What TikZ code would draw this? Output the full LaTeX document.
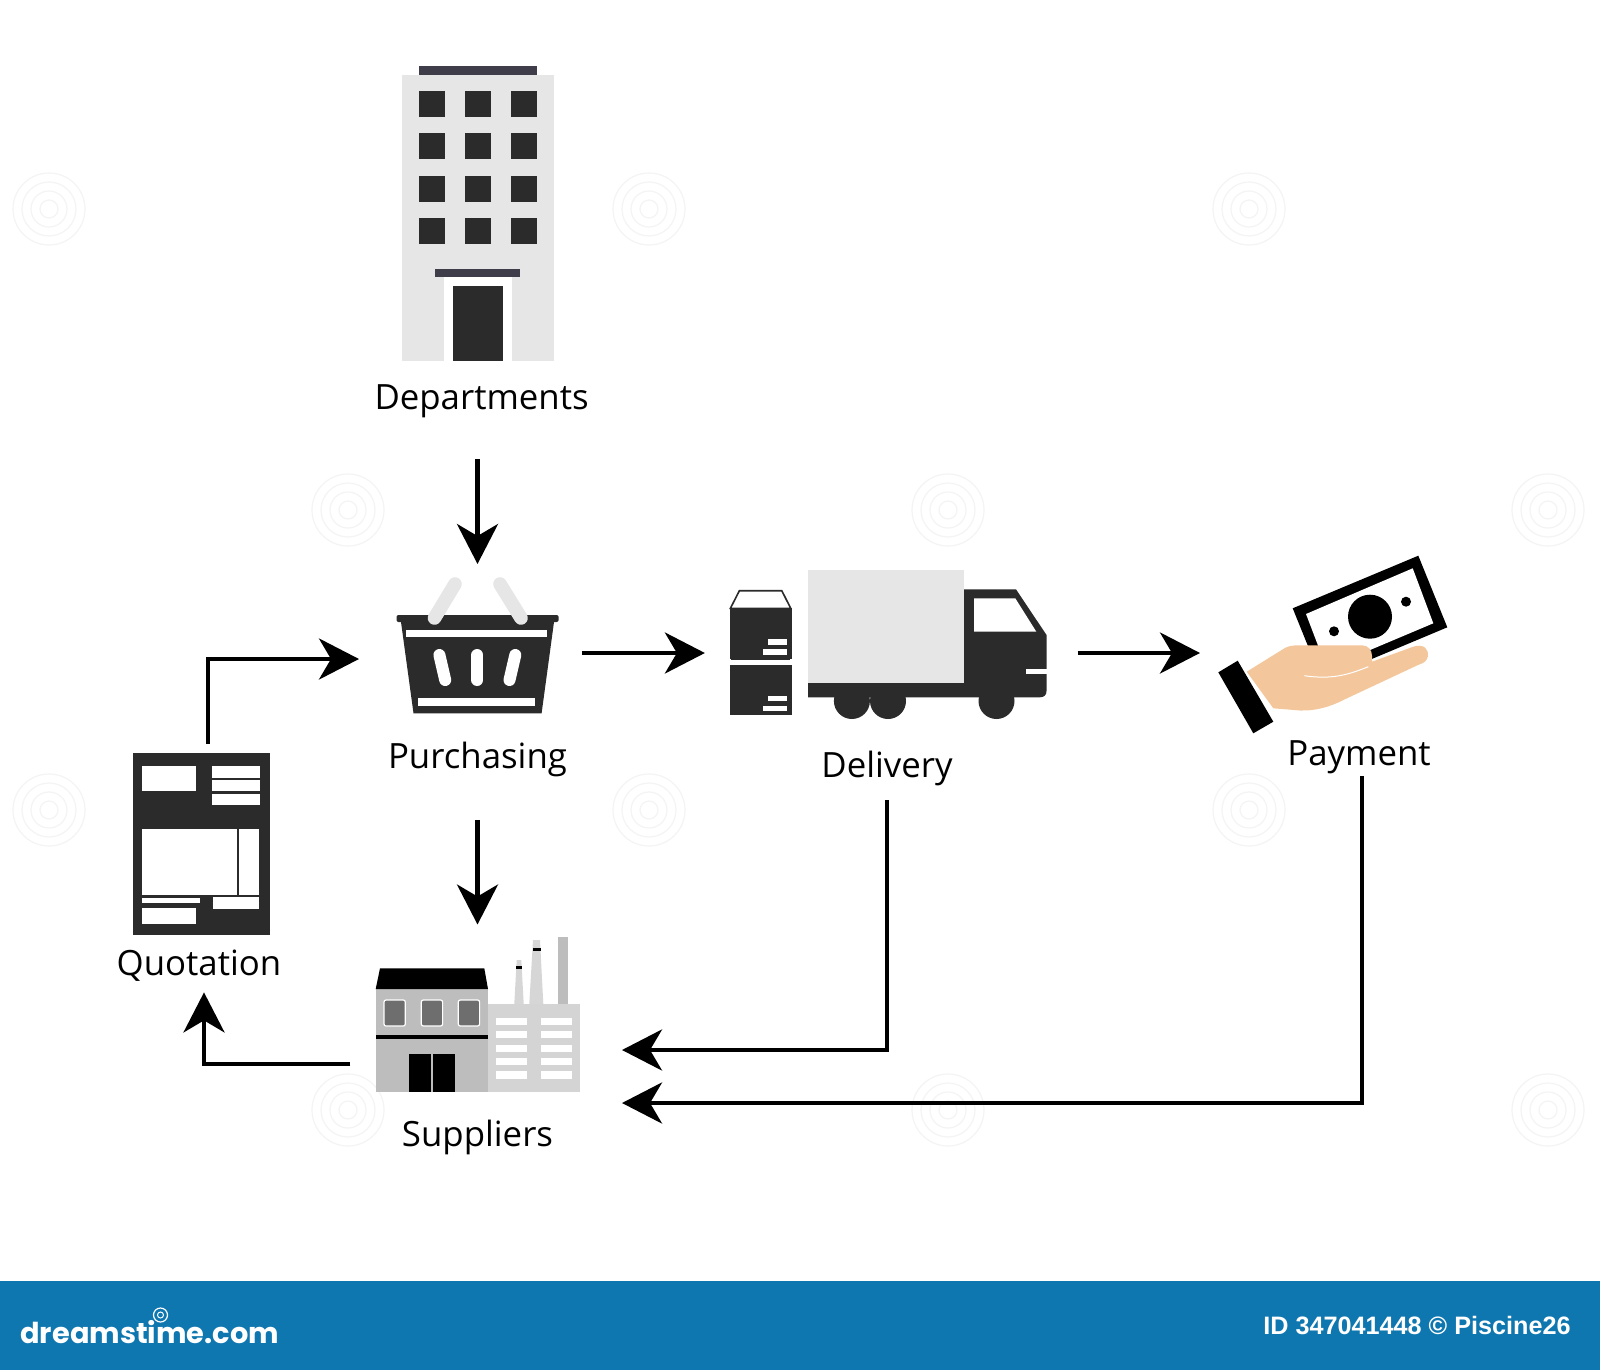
\documentclass[tikz,border=0pt]{standalone}
\usepackage{fontspec}
\setmainfont{Open Sans}
\newfontfamily\footfont{Liberation Sans}
\newfontfamily\logofont{Poppins}
\usetikzlibrary{arrows.meta}
\definecolor{inkdark}{HTML}{2B2B2B}
\definecolor{paleg}{HTML}{E6E6E6}
\definecolor{slatebar}{HTML}{3F3D4A}
\definecolor{skin}{HTML}{F3C79B}
\definecolor{bandblue}{HTML}{0F77AF}
\definecolor{markg}{HTML}{F4F4F4}
\tikzset{
	flow/.style={line width=2.1pt, -{Stealth[length=20pt,width=20.5pt,inset=6pt]}},
	caption/.style={anchor=base, inner sep=0pt, text height=12pt, text depth=4pt, font=\fontsize{17.4}{20}\selectfont},
	iconbox/.style={inner sep=0pt, outer sep=0pt},
	dark/.style={fill=inkdark},
	hole/.style={fill=white},
}
\begin{document}
\begin{tikzpicture}[x=0.5pt, y=-0.5pt]
		\useasboundingbox (0,0) rectangle (1600,1370);
		\fill[white] (0,0) rectangle (1600,1370);

		% Watermark
		\foreach \wx/\wy in {49/209, 649/209, 1249/209, 348/510, 948/510, 1548/510, 49/810, 649/810, 1249/810, 348/1110, 948/1110, 1548/1110} {
			\foreach \wr in {9,18,27,36} {
				\draw[markg, line width=.6pt] (\wx,\wy) circle[radius=\wr];
			}
		}

		% Nodes
		\node[iconbox, minimum width=76pt, minimum height=147.5pt] (building) at (478,213.5) {};
		\node[iconbox, minimum width=81pt, minimum height=68pt] (basket) at (477.5,645) {};
		\node[iconbox, minimum width=158.5pt, minimum height=74.5pt] (truck) at (888,644.5) {};
		\node[iconbox, minimum width=114.5pt, minimum height=89pt] (hand) at (1332.5,644) {};
		\node[iconbox, minimum width=69pt, minimum height=91pt] (form) at (201.5,844) {};
		\node[iconbox, minimum width=102pt, minimum height=77.5pt] (factory) at (478,1014.5) {};

		\node[caption] (departments) at (481.6,409) {Departments};
		\node[caption] (purchasing) at (477.5,768.4) {Purchasing};
		\node[caption] (delivery) at (887,777.6) {Delivery};
		\node[caption] (payment) at (1359,765) {Payment};
		\node[caption] (quotation) at (199,975.5) {Quotation};
		\node[caption] (suppliers) at (477.5,1146) {Suppliers};

		% Building
		\fill[paleg] (402,75) rectangle (554,361);
		\fill[slatebar] (419,66) rectangle (537,75);
		\foreach \wy in {91,133,176,218} {
			\foreach \wx in {419,465,511} {
				\fill[dark] (\wx,\wy) rectangle ++(25.5,26);
			}
		}
		\fill[slatebar] (435,269) rectangle (520,277);
		\fill[hole] (444,277) rectangle (512,361);
		\fill[dark] (453,286) rectangle (503,361);

		% Basket
		\fill[dark, rounded corners=1pt] (396.5,615) rectangle (558.6,622);
		\fill[dark] (401,622) -- (554,622) -- (541.6,713.3) -- (413.5,713.3) -- cycle;
		\draw[paleg, line width=6.8pt, line cap=round] (455,584) -- (434.5,618);
		\draw[paleg, line width=6.8pt, line cap=round] (500,584) -- (521,618);
		\fill[hole] (406,629.7) rectangle (546.5,637.3);
		\fill[hole] (417.5,697.7) rectangle (535,705.7);
		\draw[white, line width=6pt, line cap=round] (439.4,655) -- (445.2,680);
		\draw[white, line width=6pt, line cap=round] (477.3,655) -- (477.3,680);
		\draw[white, line width=6pt, line cap=round] (515.3,655) -- (509.5,680);

		% Truck and boxes
		\draw[inkdark, fill=white, line width=.8pt] (739.4,590.7) -- (781.8,590.7) -- (790.7,608.3) -- (730.4,608.3) -- cycle;
		\fill[dark] (729.6,608.3) rectangle (791.6,659);
		\fill[dark] (729.6,665) rectangle (791.6,715);
		\fill[dark] (731,659) rectangle (790,660);
		\fill[hole] (767.5,639.3) rectangle (787,644.7);
		\fill[hole] (763,649.3) rectangle (787,654.7);
		\fill[hole] (767.5,695.7) rectangle (787,701);
		\fill[hole] (763,705.7) rectangle (787,711);
		\fill[dark] (808,683) -- (964,683) -- (964,589.3) -- (1016,589.3) -- (1046.5,635) -- (1046.5,691) .. controls (1046.5,695) and (1044,697.3) .. (1040,697.3) -- (808,697.3) -- cycle;
		\fill[paleg] (808,570) rectangle (964,683.3);
		\fill[hole] (974.2,598.3) -- (1015.3,598.3) -- (1036.3,631.7) -- (974.2,631.7) -- cycle;
		\fill[hole] (1026.4,669) rectangle (1046.5,674);
		\foreach \wx in {851.9,888,996.5} {
			\fill[dark] (\wx,701) circle[radius=18];
		}

		% Hand and note
		\fill[black] (1292.7,608.3) -- (1418.3,555.7) -- (1447.3,627.3) -- (1321.7,680) -- cycle;
		\fill[hole] (1306,614) -- (1412.7,568.3) -- (1433.3,623.3) -- (1326.7,668.3) -- cycle;
		\fill[black] (1370,616.7) circle[radius=22];
		\fill[black] (1334,631.3) circle[radius=5];
		\fill[black] (1406,601.7) circle[radius=5];
		\fill[skin] (1246.7,671.7) -- (1281.7,650) .. controls (1287,646) and (1292,645.3) .. (1300,645.3) -- (1362,645.3) .. controls (1368,645.3) and (1372,650) .. (1372,656) -- (1372,661.7) -- (1413.3,646.7) .. controls (1424,643) and (1429,650) .. (1428,656) .. controls (1427,661) and (1424,663) .. (1418,665) -- (1343.3,700) .. controls (1330,707) and (1315,711) .. (1300,710.5) -- (1273.3,708.3) -- cycle;
		\draw[white, line width=.5pt] (1304.3,675.7) .. controls (1333,680) and (1350,674) .. (1368.3,666.7);
		\fill[black] (1218.3,672.3) -- (1237.7,660.7) -- (1273.3,721.7) -- (1253.3,733.3) -- cycle;

		% Quotation sheet
		\fill[dark] (132.7,753.3) rectangle (270.3,935);
		\fill[hole] (142,766.3) rectangle (196.3,791);
		\fill[hole] (212,766.3) rectangle (260.3,777.7);
		\fill[hole] (212,780.3) rectangle (260.3,791.3);
		\fill[hole] (212,794) rectangle (260.3,805);
		\fill[hole] (142,828.7) rectangle (237,895);
		\fill[hole] (238.7,828.7) rectangle (258.7,895);
		\fill[hole] (142,897.7) rectangle (200.3,902.7);
		\fill[hole] (142,907.7) rectangle (196.3,923.7);
		\fill[hole] (213.3,896.7) rectangle (259,908.7);

		% Factory
		\fill[black!26] (558.3,937.3) rectangle (568,1004);
		\fill[black!16] (516.7,960) -- (521.3,960) -- (523.7,1004) -- (514.3,1004) -- cycle;
		\fill[black!16] (533,940) -- (540,940) -- (543.3,1004) -- (529.3,1004) -- cycle;
		\fill[black] (516,966) rectangle (522,969.3);
		\fill[black] (532.5,948) rectangle (540.5,951.3);
		\fill[black!17] (488,1004) rectangle (580,1091.7);
		\foreach \wx in {496.3,541} {
			\foreach \wy in {1017.7,1031,1044.7,1057.7,1071.3} {
				\fill[hole] (\wx,\wy) rectangle ++(30.7,7.4);
			}
		}
		\fill[black!26] (375.7,989) rectangle (488,1091.7);
		\fill[black] (380,968.3) -- (484.3,968.3) -- (488,989) -- (375.7,989) -- cycle;
		\foreach \wx in {384,421.3,458.3} {
			\draw[white, fill=black!57, line width=.6pt, rounded corners=1pt] (\wx,1000) rectangle ++(21.3,26);
		}
		\fill[black] (375.7,1035.4) rectangle (488,1039.4);
		\fill[black] (409.3,1054.3) rectangle (431,1091.7);
		\fill[black] (433,1054.3) rectangle (454.7,1091.7);

		% Arrows
		\draw[flow] ([yshift=-21pt]departments.south -| basket.north) -- ([yshift=6.5pt]basket.north);
		\draw[flow] ([yshift=-21.5pt]purchasing.south) -- ([xshift=-.25pt,yshift=6.25pt]factory.north);
		\draw[flow] ([xshift=3.25pt,yshift=4.5pt]form.north) |- ([xshift=-18.75pt,yshift=-7pt]basket.west);
		\draw[flow] ([xshift=11.7pt,yshift=-4pt]basket.east) -- ([xshift=-12.3pt,yshift=-4.25pt]truck.west);
		\draw[flow] ([xshift=15.5pt,yshift=-4.25pt]truck.east) -- ([xshift=-9pt,yshift=-4.5pt]hand.west);
		\draw[flow] ([yshift=-7.2pt]delivery.south) |- ([xshift=21pt,yshift=-17.75pt]factory.east);
		\draw[flow] ([xshift=1.5pt,yshift=-1.25pt]payment.south) |- ([xshift=21pt,yshift=-44.25pt]factory.east);
		\draw[flow] ([xshift=-12.85pt,yshift=-24.75pt]factory.west) -| ([xshift=2.5pt,yshift=-4.25pt]quotation.south);

		% Footer band
		\fill[bandblue] (0,1281) rectangle (1600,1370);
		\node[anchor=base west, inner sep=0pt, text=white, font=\logofont\bfseries\fontsize{14.4}{18}\selectfont] (brand) at (20,1343) {dreamstime.com};
		\node[anchor=base east, inner sep=0pt, text=white, font=\footfont\bfseries\fontsize{12.6}{14}\selectfont] (credit) at (1571,1334) {ID 347041448 © Piscine26};
		\draw[white, line width=.6pt] (160.5,1315) circle[radius=7];
		\draw[white, line width=.5pt] (160.5,1315) circle[radius=3];
	\end{tikzpicture}
\end{document}
